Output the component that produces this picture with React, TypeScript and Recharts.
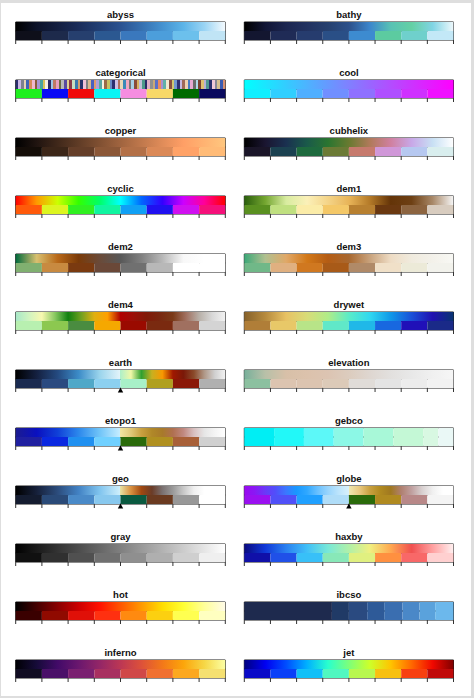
import React from 'react';
import { BarChart, Bar, XAxis, YAxis, ReferenceArea } from 'recharts';

const tickValues = [0, 1, 2, 3, 4, 5, 6, 7, 8];

// smooth ramps are colours read at even steps along the bar
const abyssRamp = ['#000000', '#0c1228', '#141f40', '#1b2d5a', '#223f74', '#2b5290', '#3670b0', '#4592d0', '#5cb4e8', '#9ad4f4', '#f4fafe'];
const abyssSteps = ['#0e0f1a', '#1d2a4b', '#263f6e', '#2b5891', '#3a78bd', '#4c9edb', '#6cc0ec', '#c0e4f5'];

const bathyRamp = ['#000000', '#111535', '#1c2650', '#223260', '#26406e', '#2c508a', '#3c86cc', '#58c2b4', '#64d0a4', '#80d4e4', '#eef8fc'];
const bathySteps = ['#131630', '#1f2b56', '#263c6e', '#2a4f86', '#3d8bd0', '#5ccba0', '#6fd0cc', '#c3e8f7'];

const categoricalStripes = [
  '#2b2f6e', '#c9b8e6', '#7f7f8f', '#e6d2b4', '#3e64b8', '#d98a5a', '#f0b8d0', '#8c5a3c', '#a796d2', '#4aa3a0', '#d9c25a', '#f4f0e6',
  '#2a2a64', '#9fc6e6', '#c07864', '#e8a0c0', '#6a6a40', '#b8b8b8', '#5a4aa0', '#e0d090', '#8a3a4a', '#c8e0c0', '#3a7ab0', '#d0a070',
  '#26306a', '#f0c0d8', '#808080', '#d8b890', '#4a60c0', '#e09a6a', '#b0a0d8', '#5aa8a0', '#f8f0e0', '#9a6a48', '#c8c060', '#6888c8',
  '#2e2e70', '#d0c0e8', '#b07060', '#e8d8b8', '#3a88b8', '#f0a8c0', '#787878', '#a8d0e8', '#8a4a3a', '#d8b060', '#c0c0d8', '#4a9a8a',
  '#2a2c68', '#e0b0c8', '#909090', '#c8a878', '#5a70c8', '#e88a60', '#a890d0', '#60b0a8', '#f0e8d0', '#8a5040', '#d0c870', '#7098d0',
  '#303070', '#c8b8e0', '#a06858', '#f0d0b0', '#4a7ac0', '#e8a8d0', '#6a6a6a', '#b0d8e8', '#7a4030', '#e0c070', '#b8b0d8', '#509890',
  '#2a3070', '#f0c8d8', '#888898', '#d8c090', '#3a5ab0', '#d89070',
];
const categoricalSteps = ['#1ef01e', '#0a0af5', '#f00a0a', '#0af5f5', '#f58de0', '#f8d868', '#006b00', '#0a0a5e'];

const coolRamp = ['#00ffff', '#1ae6ff', '#33ccff', '#4db3ff', '#6699ff', '#8080ff', '#9966ff', '#b34dff', '#cc33ff', '#e619ff', '#ff00ff'];
const coolSteps = ['#10efff', '#30cfff', '#50afff', '#708fff', '#8f70ff', '#af50ff', '#cf30ff', '#ef10ff'];

const copperRamp = ['#000000', '#201410', '#40281a', '#603c26', '#805032', '#a0643f', '#c0784c', '#e08c59', '#ff9f66', '#ffb372', '#ffc77f'];
const copperSteps = ['#140d08', '#3c2618', '#643e28', '#8b5737', '#b37047', '#db8957', '#ffa267', '#ffbb77'];

const cubhelixRamp = ['#000000', '#1a1530', '#1a3050', '#1a5a4a', '#2a7530', '#687a30', '#b07a5a', '#d080a0', '#c8a8e8', '#c8e0f4', '#ffffff'];
const cubhelixSteps = ['#1a1528', '#1b4150', '#1e6a3e', '#6b7a35', '#c67a6d', '#d097d8', '#b6c8f0', '#d9eeee'];

const cyclicRamp = ['#ff0000', '#ff9900', '#ccff00', '#33ff00', '#00ff66', '#00ffff', '#0066ff', '#3300ff', '#cc00ff', '#ff0099', '#ff0000'];
const cyclicSteps = ['#ff5a0a', '#ddf520', '#30f020', '#10f5a0', '#10a0f5', '#2010f0', '#d010f0', '#f5107a'];

const dem1Ramp = ['#2a5e0c', '#74a630', '#d8eca0', '#fbf0b8', '#f4d488', '#e8b458', '#b47a28', '#643408', '#6e4014', '#a88868', '#f6f6f6'];
const dem1Steps = ['#5a9020', '#c0e080', '#fbeca8', '#f4c868', '#b88030', '#6a3810', '#8c6440', '#d8ccbf'];

const dem2Ramp = ['#006a3c', '#d8c070', '#b86818', '#7a3a08', '#6a4a38', '#585858', '#808080', '#b8b8b8', '#f8f8f8', '#ffffff', '#ffffff'];
const dem2Steps = ['#80b070', '#c88a40', '#7a3a10', '#6a4838', '#707070', '#b8b8b8', '#ffffff', '#ffffff'];

const dem3Ramp = ['#3ca878', '#b0c090', '#e0a868', '#d27818', '#b45c14', '#a86830', '#c8a27c', '#eedcc4', '#f0ebde', '#f3f1ea', '#f8f8f4'];
const dem3Steps = ['#70b888', '#e0b080', '#d07820', '#a85a18', '#b08a68', '#f0e0c8', '#ecead8', '#f2f2ec'];

const dem4Ramp = ['#a8e8c8', '#d0f4c0', '#f8f8b0', '#88c860', '#108010', '#70a020', '#e0b010', '#ffa000', '#b00000', '#9a1008', '#801a08', '#782810', '#7a3a18', '#a07060', '#b8b0a8', '#d8d8d8', '#f2f2f2'];
const dem4Steps = ['#b8f0b0', '#8cc850', '#4a8c40', '#f5a800', '#9a0a00', '#7a2a10', '#a07060', '#d4d4d4'];

const drywetRamp = ['#86612a', '#b68a3e', '#e8c264', '#d8dc78', '#b0ec88', '#5aecc8', '#30d8f0', '#1098e8', '#1a50d8', '#2010b0', '#083371'];
const drywetSteps = ['#b07e38', '#e8c868', '#b8e488', '#60e8c8', '#20b8e8', '#1868e0', '#2010b8', '#1a2a88'];

const earthLow = ['#000000', '#142040', '#244a80', '#3c8cc8', '#9ad4ec', '#e4f4fa'];
const earthHigh = ['#b0f0c8', '#f0f8a8', '#30a030', '#c8b020', '#f89800', '#a01800', '#7a1808', '#8a4a2a', '#b09888', '#d0d0d0', '#f2f2f2'];
const earthSteps = ['#1a2a50', '#2a4a80', '#50a8c8', '#8cd0f0', '#a8f0c8', '#b0a020', '#8a1808', '#b0b0b0'];

const elevationRamp = ['#78b09a', '#b8c0a8', '#d8c0a8', '#dcc2ac', '#dcc4b2', '#dcccbe', '#ded6d0', '#e2e0de', '#e8e8e8', '#f0f0f0', '#f6f6f6'];
const elevationSteps = ['#8cc0a0', '#dcc4b0', '#dcc4b0', '#dccab8', '#e0dcd8', '#e4e4e4', '#ececec', '#f2f2f2'];

const etopo1Low = ['#1c1c90', '#0a10c0', '#1040d8', '#2c88ec', '#70c4f8', '#c8eeff'];
const etopo1High = ['#f0e4a0', '#e0c878', '#c8a040', '#b08828', '#a87a2a', '#b07050', '#c08880', '#d8c0c0', '#e6e6e6', '#f4f4f4', '#ffffff'];
const etopo1Steps = ['#2020a0', '#0a28e0', '#2090f0', '#70d0ff', '#2a6a0a', '#b09020', '#a86038', '#d0d0d0'];

const gebcoSteps = ['#00eef4', '#22f8f8', '#5cf8f8', '#8cf8e6', '#a8f8d8', '#c4f8d6', '#d8f8e2', '#eaf8f6'];
const gebcoWidths = [1.14, 1.14, 1.14, 1.14, 1.14, 1.14, 0.58, 0.58];

const geoLow = ['#000000', '#16203a', '#2c4c7c', '#4282c4', '#80c4ee', '#d0f0fc'];
const geoHigh = ['#e8e0a0', '#d89040', '#a04810', '#6a3c28', '#7a7070', '#9a9a9a', '#c8c8c8', '#f0f0f0', '#ffffff', '#ffffff', '#ffffff'];
const geoSteps = ['#141c30', '#2a4a78', '#4a8ac8', '#88c8ee', '#0a5a40', '#6a3a20', '#989898', '#ffffff'];

const globeLow = ['#9a08f0', '#8a18f4', '#6a38f8', '#5050fa', '#3a78ff', '#1898ff', '#30a8ff', '#68c0ff', '#98d4fc', '#bce4fc', '#d8f0fc'];
const globeHigh = ['#f0e8b0', '#e8c880', '#c8a040', '#b08a20', '#a07820', '#b08070', '#c0a0a0', '#d8d0d0', '#f0f0f0', '#ffffff', '#ffffff'];
const globeSteps = ['#9a10f0', '#5050f8', '#20a0ff', '#b0ddf8', '#2a6a0a', '#b08a20', '#b88888', '#f4f4f4'];

const grayRamp = ['#000000', '#ffffff'];
const graySteps = ['#101010', '#303030', '#505050', '#707070', '#8f8f8f', '#afafaf', '#cfcfcf', '#efefef'];

const haxbyRamp = ['#0a0a80', '#1038d8', '#2a80f0', '#40c0f8', '#78e8d8', '#b0f0a8', '#f0f080', '#ffa850', '#f05050', '#ffa0a0', '#fff0f0'];
const haxbySteps = ['#1010a8', '#2050e8', '#38c0f8', '#88e8b8', '#e0f080', '#ff9040', '#f86868', '#ffd0d0'];

const hotRamp = ['#000000', '#440000', '#880000', '#cc0000', '#ff1100', '#ff5500', '#ff9900', '#ffdd00', '#ffff33', '#ffff99', '#fffbe8'];
const hotSteps = ['#3a0000', '#900a00', '#e01008', '#ff3010', '#ff8a10', '#fcd010', '#ffff50', '#ffffc0'];

const ibcsoSteps = ['#1e2a4e', '#203a66', '#2a4a80', '#2e5a98', '#3a6eb0', '#4a88c8', '#5aa2dc', '#6cb8ec'];
const ibcsoWidths = [3.35, 0.65, 0.7, 0.65, 0.7, 0.65, 0.6, 0.7];

const infernoRamp = ['#000004', '#160b39', '#420a68', '#6a176e', '#932667', '#bc3754', '#dd513a', '#f37819', '#fca50a', '#f6d746', '#fcffa4'];
const infernoSteps = ['#100c22', '#4a1068', '#7a2070', '#a83060', '#d04848', '#f07030', '#fca820', '#f5e070'];

const jetRamp = ['#000080', '#0000f1', '#004dff', '#00b1ff', '#29ffce', '#7dff7a', '#ceff29', '#ffc400', '#ff6800', '#f10800', '#800000'];
const jetSteps = ['#0a0ac8', '#0a40f8', '#10c0f8', '#50f8c0', '#b8f850', '#f8c010', '#f84010', '#c00a0a'];

type CMap = {
  name: string;
  ramp?: string[];
  low?: string[];
  high?: string[];
  stripes?: string[];
  steps: string[];
  widths?: number[];
  hinge?: number;
  banded?: boolean;
};

const maps: CMap[] = [
  { name: 'abyss', ramp: abyssRamp, steps: abyssSteps },
  { name: 'bathy', ramp: bathyRamp, steps: bathySteps },
  { name: 'categorical', stripes: categoricalStripes, steps: categoricalSteps },
  { name: 'cool', ramp: coolRamp, steps: coolSteps },
  { name: 'copper', ramp: copperRamp, steps: copperSteps },
  { name: 'cubhelix', ramp: cubhelixRamp, steps: cubhelixSteps },
  { name: 'cyclic', ramp: cyclicRamp, steps: cyclicSteps },
  { name: 'dem1', ramp: dem1Ramp, steps: dem1Steps },
  { name: 'dem2', ramp: dem2Ramp, steps: dem2Steps },
  { name: 'dem3', ramp: dem3Ramp, steps: dem3Steps },
  { name: 'dem4', ramp: dem4Ramp, steps: dem4Steps },
  { name: 'drywet', ramp: drywetRamp, steps: drywetSteps },
  { name: 'earth', low: earthLow, high: earthHigh, steps: earthSteps, hinge: 4 },
  { name: 'elevation', ramp: elevationRamp, steps: elevationSteps },
  { name: 'etopo1', low: etopo1Low, high: etopo1High, steps: etopo1Steps, hinge: 4 },
  { name: 'gebco', steps: gebcoSteps, widths: gebcoWidths, banded: true },
  { name: 'geo', low: geoLow, high: geoHigh, steps: geoSteps, hinge: 4 },
  { name: 'globe', low: globeLow, high: globeHigh, steps: globeSteps, hinge: 4 },
  { name: 'gray', ramp: grayRamp, steps: graySteps },
  { name: 'haxby', ramp: haxbyRamp, steps: haxbySteps },
  { name: 'hot', ramp: hotRamp, steps: hotSteps },
  { name: 'ibcso', steps: ibcsoSteps, widths: ibcsoWidths, banded: true },
  { name: 'inferno', ramp: infernoRamp, steps: infernoSteps },
  { name: 'jet', ramp: jetRamp, steps: jetSteps },
];

const DOMAIN_MAX = 8;
const COL_W = 237;
const ROW_H = 58;
const CHART_H = 48;
const cols = [
  { left: 0, x0: 15.7, x1: 225.3 },
  { left: 237, x0: 244.3, x1: 453.5 },
];

function gradientStops(m: CMap) {
  if (m.stripes) {
    const n = m.stripes.length;
    return m.stripes.flatMap((c, i) => [
      { o: i / n, c },
      { o: (i + 1) / n, c },
    ]);
  }
  if (m.low && m.high) {
    const h = (m.hinge ?? 4) / DOMAIN_MAX;
    const lo = m.low.map((c, i) => ({ o: (i / (m.low!.length - 1)) * h, c }));
    const hi = m.high.map((c, i) => ({ o: h + (i / (m.high!.length - 1)) * (1 - h), c }));
    return [...lo, ...hi];
  }
  const r = m.ramp ?? [];
  return r.map((c, i) => ({ o: i / (r.length - 1), c }));
}

const Panel: React.FC<{ m: CMap; index: number }> = ({ m, index }) => {
  const col = cols[index % 2];
  const row = Math.floor(index / 2);
  const segs: Record<string, number> = {};
  const zeros: Record<string, number> = {};
  m.steps.forEach((_, i) => {
    segs[`s${i}`] = m.widths ? m.widths[i] : 1;
    zeros[`s${i}`] = 0;
  });
  const data = [
    { band: 'top', ramp: m.banded ? 0 : DOMAIN_MAX, ...(m.banded ? segs : zeros) },
    { band: 'bottom', ramp: 0, ...segs },
  ];
  const gid = `cm-${m.name}`;

  const renderTick = (p: any) => {
    if (m.hinge !== undefined && p.payload && p.payload.value === m.hinge) {
      const x = p.x;
      const y = p.y;
      return <polygon points={`${x},${y - 4.6} ${x - 2.7},${y + 0.4} ${x + 2.7},${y + 0.4}`} fill="#000" />;
    }
    return <g />;
  };

  return (
    <div style={{ position: 'absolute', left: col.left, top: row * ROW_H, width: COL_W, height: CHART_H }}>
      <div
        style={{
          position: 'absolute',
          left: col.x0 - col.left,
          width: col.x1 - col.x0,
          top: 9.3,
          textAlign: 'center',
          fontFamily: '"Liberation Sans", Arial, sans-serif',
          fontWeight: 'bold',
          fontSize: 9.5,
          lineHeight: '12px',
          color: '#111',
        }}
      >
        {m.name}
      </div>
      <BarChart
        width={COL_W}
        height={CHART_H}
        layout="vertical"
        data={data}
        margin={{ top: 22, bottom: 2, left: col.x0 - col.left, right: col.left + COL_W - col.x1 }}
        barCategoryGap={0}
        barGap={0}
      >
        <defs>
          <linearGradient id={gid} x1="0" y1="0" x2="1" y2="0">
            {gradientStops(m).map((s, i) => (
              <stop key={i} offset={s.o} stopColor={s.c} />
            ))}
          </linearGradient>
        </defs>
        <XAxis
          type="number"
          domain={[0, DOMAIN_MAX]}
          ticks={tickValues}
          interval={0}
          height={6}
          axisLine={false}
          tickLine={{ stroke: '#333', strokeWidth: 1 }}
          tickSize={4}
          tickMargin={0}
          tick={renderTick}
        />
        <YAxis type="category" dataKey="band" hide />
        <Bar dataKey="ramp" stackId="s" fill={`url(#${gid})`} isAnimationActive={false} />
        {m.steps.map((c, i) => (
          <Bar key={i} dataKey={`s${i}`} stackId="s" fill={c} isAnimationActive={false} />
        ))}
        <ReferenceArea y1="top" y2="top" x1={0} x2={DOMAIN_MAX} fill="none" stroke="#1a1a1a" strokeWidth={1} ifOverflow="visible" />
        <ReferenceArea y1="bottom" y2="bottom" x1={0} x2={DOMAIN_MAX} fill="none" stroke="#1a1a1a" strokeWidth={1} ifOverflow="visible" />
      </BarChart>
    </div>
  );
};

export default function App() {
  return (
    <div style={{ position: 'absolute', left: 0, top: 0, width: 474, height: 698, background: '#dedede' }}>
      <div style={{ position: 'absolute', left: 1, top: 3, width: 470, height: 693, background: '#ffffff' }} />
      <div style={{ position: 'absolute', left: 0, top: 0, width: 474, height: 698 }}>
        {maps.map((m, i) => (
          <Panel key={m.name} m={m} index={i} />
        ))}
      </div>
    </div>
  );
}
